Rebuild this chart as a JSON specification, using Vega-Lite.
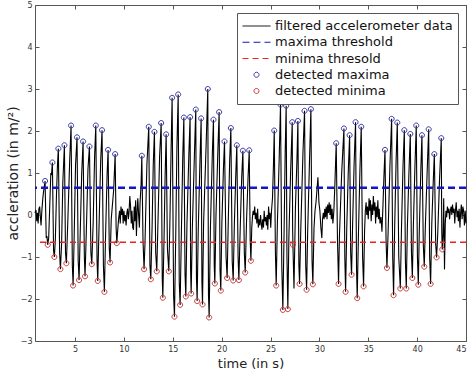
{
  "$schema": "https://vega.github.io/schema/vega-lite/v6.json",
  "width": 431,
  "height": 336,
  "autosize": {"type": "none"},
  "padding": {"left": 35, "top": 5, "right": 8, "bottom": 31},
  "background": "white",
  "config": {
    "view": {"stroke": "#555555", "strokeWidth": 1},
    "font": "DejaVu Sans",
    "axis": {
      "grid": false,
      "domain": false,
      "tickSize": -4,
      "tickColor": "#555555",
      "tickWidth": 1,
      "labelFont": "DejaVu Sans",
      "labelFontSize": 8,
      "labelColor": "#333333",
      "titleFont": "DejaVu Sans",
      "titleFontWeight": "normal",
      "titleColor": "#222222"
    },
    "legend": {
      "labelFont": "DejaVu Sans",
      "labelFontSize": 13,
      "labelColor": "#111111",
      "labelLimit": 400
    }
  },
  "datasets": {
    "signal": [
      {"t":0.90,"a":0.05},{"t":1.00,"a":0.12},{"t":1.08,"a":-0.15},{"t":1.15,"a":0.05},{"t":1.22,"a":-0.2},{"t":1.30,"a":0.15},{"t":1.38,"a":0.2},{"t":1.45,"a":-0.05},{"t":1.52,"a":-0.25},{"t":1.60,"a":0.1},{"t":1.70,"a":0.4},{"t":1.80,"a":0.6},
      {"t":1.93,"a":0.81},{"t":2.05,"a":-0.55},{"t":2.12,"a":-0.5},{"t":2.20,"a":-0.71},{"t":2.30,"a":-0.55},{"t":2.42,"a":0.3},{"t":2.52,"a":1.0},{"t":2.58,"a":0.95},
      {"t":2.68,"a":1.25},{"t":2.80,"a":-0.85},{"t":2.88,"a":-1.0},{"t":2.98,"a":-0.6},{"t":3.10,"a":0.5},{"t":3.20,"a":1.2},{"t":3.29,"a":1.58},{"t":3.42,"a":-0.9},{"t":3.50,"a":-1.29},{"t":3.62,"a":-0.7},{"t":3.75,"a":0.8},
      {"t":3.91,"a":1.66},{"t":4.02,"a":-0.9},{"t":4.11,"a":-1.15},{"t":4.25,"a":-0.2},{"t":4.45,"a":1.3},{"t":4.59,"a":2.13},{"t":4.72,"a":-1.2},{"t":4.80,"a":-1.68},{"t":4.90,"a":-0.6},{"t":5.05,"a":1.2},
      {"t":5.20,"a":1.85},{"t":5.32,"a":-1.1},{"t":5.41,"a":-1.55},{"t":5.52,"a":-0.5},{"t":5.68,"a":1.0},{"t":5.82,"a":1.75},{"t":5.95,"a":-1.0},{"t":6.02,"a":-1.46},{"t":6.15,"a":-0.4},{"t":6.32,"a":1.1},
      {"t":6.47,"a":1.63},{"t":6.62,"a":-0.9},{"t":6.71,"a":-1.17},{"t":6.85,"a":-0.2},{"t":7.00,"a":1.4},{"t":7.12,"a":2.13},{"t":7.25,"a":-1.1},{"t":7.32,"a":-1.57},{"t":7.45,"a":-0.3},{"t":7.62,"a":1.3},
      {"t":7.76,"a":2.02},{"t":7.90,"a":-1.2},{"t":8.00,"a":-1.83},{"t":8.12,"a":-0.5},{"t":8.28,"a":1.0},{"t":8.38,"a":1.55},{"t":8.50,"a":-0.8},{"t":8.58,"a":-1.13},{"t":8.70,"a":-0.1},{"t":8.95,"a":0.6},
      {"t":9.10,"a":1.45},{"t":9.20,"a":-0.3},{"t":9.27,"a":-0.67},
      {"t":9.35,"a":-0.4},{"t":9.45,"a":-0.1},{"t":9.55,"a":0.1},{"t":9.62,"a":-0.2},{"t":9.70,"a":0.2},{"t":9.78,"a":0.0},{"t":9.85,"a":0.15},{"t":9.92,"a":-0.2},{"t":10.00,"a":0.1},{"t":10.08,"a":-0.15},{"t":10.15,"a":0.0},{"t":10.22,"a":-0.25},{"t":10.30,"a":0.05},{"t":10.38,"a":0.15},{"t":10.45,"a":-0.1},{"t":10.52,"a":0.05},{"t":10.60,"a":0.45},{"t":10.68,"a":0.2},{"t":10.75,"a":-0.2},{"t":10.82,"a":0.1},{"t":10.90,"a":-0.3},{"t":10.98,"a":-0.35},{"t":11.05,"a":0.2},{"t":11.12,"a":-0.15},{"t":11.20,"a":0.35},{"t":11.28,"a":-0.5},{"t":11.35,"a":0.1},{"t":11.42,"a":0.4},{"t":11.50,"a":0.0},{"t":11.58,"a":-0.3},{"t":11.65,"a":0.3},{"t":11.75,"a":0.7},
      {"t":11.83,"a":1.41},{"t":11.95,"a":-0.6},{"t":12.06,"a":-1.29},{"t":12.15,"a":-0.7},{"t":12.35,"a":1.2},{"t":12.54,"a":2.10},{"t":12.66,"a":-1.2},{"t":12.75,"a":-1.53},{"t":12.88,"a":-0.3},{"t":13.00,"a":1.2},
      {"t":13.12,"a":1.98},{"t":13.25,"a":-0.9},{"t":13.36,"a":-1.34},{"t":13.48,"a":-0.2},{"t":13.65,"a":1.4},{"t":13.81,"a":2.19},{"t":13.92,"a":-1.5},{"t":13.98,"a":-1.97},{"t":14.10,"a":-0.6},{"t":14.22,"a":1.0},
      {"t":14.32,"a":1.92},{"t":14.45,"a":-0.8},{"t":14.59,"a":-1.34},{"t":14.70,"a":-0.2},{"t":14.82,"a":1.5},{"t":14.93,"a":2.79},{"t":15.08,"a":-1.9},{"t":15.17,"a":-2.42},{"t":15.30,"a":-0.5},{"t":15.42,"a":1.6},
      {"t":15.55,"a":2.87},{"t":15.66,"a":-1.6},{"t":15.75,"a":-2.14},{"t":15.88,"a":-0.4},{"t":16.02,"a":1.4},{"t":16.13,"a":2.32},{"t":16.25,"a":-1.4},{"t":16.33,"a":-1.94},{"t":16.45,"a":-0.2},{"t":16.65,"a":1.5},
      {"t":16.77,"a":2.33},{"t":16.82,"a":-1.3},{"t":16.88,"a":-1.87},{"t":17.00,"a":-0.3},{"t":17.22,"a":1.5},{"t":17.35,"a":2.51},{"t":17.42,"a":-1.5},{"t":17.49,"a":-2.05},{"t":17.60,"a":-0.4},{"t":17.78,"a":1.3},
      {"t":17.90,"a":2.30},{"t":17.98,"a":-1.6},{"t":18.04,"a":-2.13},{"t":18.15,"a":-0.2},{"t":18.40,"a":1.6},{"t":18.58,"a":3.0},{"t":18.65,"a":-1.9},{"t":18.72,"a":-2.44},{"t":18.85,"a":-0.3},{"t":19.05,"a":1.5},
      {"t":19.16,"a":2.27},{"t":19.24,"a":-1.2},{"t":19.30,"a":-1.63},{"t":19.42,"a":0.0},{"t":19.62,"a":1.6},{"t":19.74,"a":2.45},{"t":19.83,"a":-1.3},{"t":19.91,"a":-1.80},{"t":20.02,"a":-0.2},{"t":20.18,"a":1.1},
      {"t":20.29,"a":1.75},{"t":20.45,"a":-1.0},{"t":20.56,"a":-1.50},{"t":20.68,"a":-0.1},{"t":20.82,"a":1.3},{"t":20.94,"a":2.07},{"t":21.08,"a":-1.1},{"t":21.18,"a":-1.56},{"t":21.30,"a":-0.2},{"t":21.45,"a":1.0},
      {"t":21.55,"a":1.66},{"t":21.68,"a":-1.0},{"t":21.76,"a":-1.55},{"t":21.90,"a":-0.3},{"t":22.05,"a":0.9},{"t":22.17,"a":1.53},{"t":22.32,"a":-0.9},{"t":22.41,"a":-1.37},{"t":22.55,"a":-0.1},{"t":22.70,"a":0.9},
      {"t":22.82,"a":1.54},{"t":22.92,"a":-0.6},{"t":22.99,"a":-1.09},{"t":23.08,"a":-0.3},
      {"t":23.15,"a":-0.05},{"t":23.22,"a":0.1},{"t":23.30,"a":0.0},{"t":23.38,"a":0.2},{"t":23.45,"a":-0.1},{"t":23.52,"a":0.05},{"t":23.60,"a":-0.2},{"t":23.68,"a":0.15},{"t":23.75,"a":-0.3},{"t":23.82,"a":-0.1},{"t":23.90,"a":-0.25},{"t":23.98,"a":0.0},{"t":24.05,"a":-0.2},{"t":24.12,"a":-0.35},{"t":24.20,"a":-0.1},{"t":24.28,"a":-0.3},{"t":24.35,"a":0.1},{"t":24.42,"a":-0.15},{"t":24.50,"a":-0.05},{"t":24.58,"a":-0.25},{"t":24.65,"a":0.0},{"t":24.72,"a":-0.35},{"t":24.80,"a":0.2},{"t":24.88,"a":-0.1},{"t":24.95,"a":0.05},{"t":25.02,"a":-0.3},{"t":25.10,"a":0.1},{"t":25.20,"a":0.4},{"t":25.30,"a":1.2},
      {"t":25.38,"a":2.01},{"t":25.50,"a":-0.9},{"t":25.58,"a":-1.68},{"t":25.70,"a":-0.2},{"t":25.88,"a":1.3},{"t":26.02,"a":2.63},{"t":26.15,"a":-1.2},{"t":26.26,"a":-2.26},{"t":26.38,"a":-0.5},{"t":26.50,"a":1.5},
      {"t":26.60,"a":2.60},{"t":26.68,"a":-1.0},{"t":26.77,"a":-2.24},{"t":26.88,"a":-0.5},{"t":27.05,"a":1.0},{"t":27.22,"a":2.21},{"t":27.26,"a":-0.3},{"t":27.29,"a":-0.71},{"t":27.40,"a":-1.75},{"t":27.55,"a":0.2},{"t":27.70,"a":1.3},
      {"t":27.80,"a":2.24},{"t":27.90,"a":-1.2},{"t":27.97,"a":-1.64},{"t":28.10,"a":-0.3},{"t":28.32,"a":1.5},{"t":28.48,"a":2.48},{"t":28.60,"a":-1.2},{"t":28.69,"a":-1.78},{"t":28.80,"a":-0.4},{"t":29.00,"a":1.4},
      {"t":29.13,"a":2.52},{"t":29.25,"a":-1.1},{"t":29.33,"a":-1.65},{"t":29.45,"a":-0.3},
      {"t":29.55,"a":0.1},{"t":29.65,"a":0.3},{"t":29.75,"a":0.6},{"t":29.85,"a":0.9},{"t":29.95,"a":0.3},{"t":30.05,"a":0.1},{"t":30.15,"a":-0.3},{"t":30.25,"a":-0.55},{"t":30.32,"a":-0.1},{"t":30.40,"a":0.05},{"t":30.48,"a":-0.1},{"t":30.55,"a":0.15},{"t":30.62,"a":-0.05},{"t":30.70,"a":0.2},{"t":30.78,"a":-0.1},{"t":30.85,"a":0.25},{"t":30.92,"a":0.05},{"t":31.00,"a":0.3},{"t":31.08,"a":0.0},{"t":31.15,"a":0.25},{"t":31.22,"a":-0.1},{"t":31.30,"a":0.15},{"t":31.38,"a":-0.2},{"t":31.48,"a":0.1},{"t":31.58,"a":0.7},
      {"t":31.72,"a":1.71},{"t":31.85,"a":-0.6},{"t":31.96,"a":-1.64},{"t":32.05,"a":-0.5},{"t":32.28,"a":1.0},{"t":32.51,"a":2.06},{"t":32.60,"a":-1.0},{"t":32.68,"a":-1.83},{"t":32.80,"a":-0.3},{"t":32.95,"a":1.0},
      {"t":33.09,"a":1.90},{"t":33.20,"a":-0.9},{"t":33.29,"a":-1.42},{"t":33.40,"a":-0.2},{"t":33.55,"a":1.2},{"t":33.70,"a":2.21},{"t":33.80,"a":-1.3},{"t":33.87,"a":-1.98},{"t":34.00,"a":-0.4},{"t":34.15,"a":1.1},
      {"t":34.28,"a":2.10},{"t":34.42,"a":-1.0},{"t":34.52,"a":-1.70},{"t":34.62,"a":-0.4},
      {"t":34.70,"a":0.1},{"t":34.78,"a":0.3},{"t":34.85,"a":0.0},{"t":34.92,"a":0.2},{"t":35.00,"a":-0.1},{"t":35.08,"a":0.4},{"t":35.15,"a":0.1},{"t":35.22,"a":0.35},{"t":35.30,"a":-0.15},{"t":35.38,"a":0.25},{"t":35.45,"a":0.0},{"t":35.52,"a":0.45},{"t":35.60,"a":0.1},{"t":35.68,"a":0.3},{"t":35.75,"a":-0.2},{"t":35.82,"a":0.2},{"t":35.90,"a":-0.05},{"t":35.98,"a":0.35},{"t":36.05,"a":-0.1},{"t":36.12,"a":0.15},{"t":36.20,"a":-0.2},{"t":36.30,"a":-0.05},{"t":36.40,"a":-0.4},{"t":36.50,"a":0.2},{"t":36.60,"a":0.9},
      {"t":36.71,"a":1.55},{"t":36.82,"a":-0.6},{"t":36.91,"a":-1.26},{"t":37.02,"a":-0.5},{"t":37.22,"a":1.2},{"t":37.39,"a":2.29},{"t":37.50,"a":-1.0},{"t":37.59,"a":-1.91},{"t":37.70,"a":-0.3},{"t":37.85,"a":1.3},
      {"t":37.97,"a":2.20},{"t":38.12,"a":-1.0},{"t":38.28,"a":-1.75},{"t":38.40,"a":-0.3},{"t":38.56,"a":1.2},{"t":38.69,"a":2.02},{"t":38.80,"a":-1.1},{"t":38.89,"a":-1.75},{"t":39.00,"a":-0.3},{"t":39.16,"a":1.0},
      {"t":39.30,"a":1.93},{"t":39.42,"a":-0.9},{"t":39.51,"a":-1.50},{"t":39.62,"a":-0.2},{"t":39.78,"a":1.2},{"t":39.91,"a":2.13},{"t":40.03,"a":-1.0},{"t":40.12,"a":-1.66},{"t":40.22,"a":-0.4},{"t":40.38,"a":1.1},
      {"t":40.49,"a":1.90},{"t":40.63,"a":-0.7},{"t":40.73,"a":-1.23},{"t":40.85,"a":-0.2},{"t":41.05,"a":1.2},{"t":41.18,"a":2.04},{"t":41.28,"a":-1.0},{"t":41.38,"a":-1.64},{"t":41.50,"a":-0.2},{"t":41.65,"a":0.8},
      {"t":41.76,"a":1.45},{"t":41.90,"a":-0.7},{"t":41.99,"a":-1.01},{"t":42.10,"a":-0.5},{"t":42.30,"a":0.9},{"t":42.47,"a":1.83},{"t":42.52,"a":-0.4},{"t":42.57,"a":-0.82},{"t":42.65,"a":-0.5},{"t":42.72,"a":0.4},{"t":42.80,"a":-1.3},
      {"t":42.88,"a":-0.2},{"t":42.95,"a":0.1},{"t":43.02,"a":-0.05},{"t":43.10,"a":0.2},{"t":43.18,"a":0.05},{"t":43.25,"a":0.15},{"t":43.32,"a":-0.1},{"t":43.40,"a":0.1},{"t":43.48,"a":0.2},{"t":43.55,"a":0.0},{"t":43.62,"a":0.25},{"t":43.70,"a":0.05},{"t":43.78,"a":0.15},{"t":43.85,"a":-0.2},{"t":43.92,"a":0.1},{"t":44.00,"a":0.3},{"t":44.08,"a":-0.05},{"t":44.15,"a":0.1},{"t":44.22,"a":-0.15},{"t":44.30,"a":0.15},{"t":44.38,"a":-0.3},{"t":44.45,"a":0.05},{"t":44.52,"a":0.25},{"t":44.60,"a":-0.1},{"t":44.68,"a":0.2},{"t":44.76,"a":0.1},{"t":44.84,"a":-0.25},{"t":44.92,"a":0.1},{"t":45.00,"a":-0.2}
    ],
    "extrema": [
      {"t":1.93,"a":0.81,"series":"detected maxima"},{"t":2.68,"a":1.25,"series":"detected maxima"},{"t":3.29,"a":1.58,"series":"detected maxima"},{"t":3.91,"a":1.66,"series":"detected maxima"},{"t":4.59,"a":2.13,"series":"detected maxima"},{"t":5.20,"a":1.85,"series":"detected maxima"},{"t":5.82,"a":1.75,"series":"detected maxima"},{"t":6.47,"a":1.63,"series":"detected maxima"},{"t":7.12,"a":2.13,"series":"detected maxima"},{"t":7.76,"a":2.02,"series":"detected maxima"},{"t":8.38,"a":1.55,"series":"detected maxima"},{"t":9.10,"a":1.45,"series":"detected maxima"},
      {"t":11.83,"a":1.41,"series":"detected maxima"},{"t":12.54,"a":2.10,"series":"detected maxima"},{"t":13.12,"a":1.98,"series":"detected maxima"},{"t":13.81,"a":2.19,"series":"detected maxima"},{"t":14.32,"a":1.92,"series":"detected maxima"},{"t":14.93,"a":2.79,"series":"detected maxima"},{"t":15.55,"a":2.87,"series":"detected maxima"},{"t":16.13,"a":2.32,"series":"detected maxima"},{"t":16.77,"a":2.33,"series":"detected maxima"},{"t":17.35,"a":2.51,"series":"detected maxima"},{"t":17.90,"a":2.30,"series":"detected maxima"},{"t":18.58,"a":3.0,"series":"detected maxima"},{"t":19.16,"a":2.27,"series":"detected maxima"},{"t":19.74,"a":2.45,"series":"detected maxima"},{"t":20.29,"a":1.75,"series":"detected maxima"},{"t":20.94,"a":2.07,"series":"detected maxima"},{"t":21.55,"a":1.66,"series":"detected maxima"},{"t":22.17,"a":1.53,"series":"detected maxima"},{"t":22.82,"a":1.54,"series":"detected maxima"},
      {"t":25.38,"a":2.01,"series":"detected maxima"},{"t":26.02,"a":2.63,"series":"detected maxima"},{"t":26.60,"a":2.60,"series":"detected maxima"},{"t":27.22,"a":2.21,"series":"detected maxima"},{"t":27.80,"a":2.24,"series":"detected maxima"},{"t":28.48,"a":2.48,"series":"detected maxima"},{"t":29.13,"a":2.52,"series":"detected maxima"},
      {"t":31.72,"a":1.71,"series":"detected maxima"},{"t":32.51,"a":2.06,"series":"detected maxima"},{"t":33.09,"a":1.90,"series":"detected maxima"},{"t":33.70,"a":2.21,"series":"detected maxima"},{"t":34.28,"a":2.10,"series":"detected maxima"},
      {"t":36.71,"a":1.55,"series":"detected maxima"},{"t":37.39,"a":2.29,"series":"detected maxima"},{"t":37.97,"a":2.20,"series":"detected maxima"},{"t":38.69,"a":2.02,"series":"detected maxima"},{"t":39.30,"a":1.93,"series":"detected maxima"},{"t":39.91,"a":2.13,"series":"detected maxima"},{"t":40.49,"a":1.90,"series":"detected maxima"},{"t":41.18,"a":2.04,"series":"detected maxima"},{"t":41.76,"a":1.45,"series":"detected maxima"},{"t":42.47,"a":1.83,"series":"detected maxima"},
      {"t":2.20,"a":-0.71,"series":"detected minima"},{"t":2.88,"a":-1.0,"series":"detected minima"},{"t":3.50,"a":-1.29,"series":"detected minima"},{"t":4.11,"a":-1.15,"series":"detected minima"},{"t":4.80,"a":-1.68,"series":"detected minima"},{"t":5.41,"a":-1.55,"series":"detected minima"},{"t":6.02,"a":-1.46,"series":"detected minima"},{"t":6.71,"a":-1.17,"series":"detected minima"},{"t":7.32,"a":-1.57,"series":"detected minima"},{"t":8.00,"a":-1.83,"series":"detected minima"},{"t":8.58,"a":-1.13,"series":"detected minima"},{"t":9.27,"a":-0.67,"series":"detected minima"},
      {"t":12.06,"a":-1.29,"series":"detected minima"},{"t":12.75,"a":-1.53,"series":"detected minima"},{"t":13.36,"a":-1.34,"series":"detected minima"},{"t":13.98,"a":-1.97,"series":"detected minima"},{"t":14.59,"a":-1.34,"series":"detected minima"},{"t":15.17,"a":-2.42,"series":"detected minima"},{"t":15.75,"a":-2.14,"series":"detected minima"},{"t":16.33,"a":-1.94,"series":"detected minima"},{"t":16.88,"a":-1.87,"series":"detected minima"},{"t":17.49,"a":-2.05,"series":"detected minima"},{"t":18.04,"a":-2.13,"series":"detected minima"},{"t":18.72,"a":-2.44,"series":"detected minima"},{"t":19.30,"a":-1.63,"series":"detected minima"},{"t":19.91,"a":-1.80,"series":"detected minima"},{"t":20.56,"a":-1.50,"series":"detected minima"},{"t":21.18,"a":-1.56,"series":"detected minima"},{"t":21.76,"a":-1.55,"series":"detected minima"},{"t":22.41,"a":-1.37,"series":"detected minima"},{"t":22.99,"a":-1.09,"series":"detected minima"},
      {"t":25.58,"a":-1.68,"series":"detected minima"},{"t":26.26,"a":-2.26,"series":"detected minima"},{"t":26.77,"a":-2.24,"series":"detected minima"},{"t":27.29,"a":-0.71,"series":"detected minima"},{"t":27.97,"a":-1.64,"series":"detected minima"},{"t":28.69,"a":-1.78,"series":"detected minima"},{"t":29.33,"a":-1.65,"series":"detected minima"},
      {"t":31.96,"a":-1.64,"series":"detected minima"},{"t":32.68,"a":-1.83,"series":"detected minima"},{"t":33.29,"a":-1.42,"series":"detected minima"},{"t":33.87,"a":-1.98,"series":"detected minima"},{"t":34.52,"a":-1.70,"series":"detected minima"},
      {"t":36.91,"a":-1.26,"series":"detected minima"},{"t":37.59,"a":-1.91,"series":"detected minima"},{"t":38.28,"a":-1.75,"series":"detected minima"},{"t":38.89,"a":-1.75,"series":"detected minima"},{"t":39.51,"a":-1.50,"series":"detected minima"},{"t":40.12,"a":-1.66,"series":"detected minima"},{"t":40.73,"a":-1.23,"series":"detected minima"},{"t":41.38,"a":-1.64,"series":"detected minima"},{"t":41.99,"a":-1.01,"series":"detected minima"},{"t":42.57,"a":-0.82,"series":"detected minima"}
    ],
    "maxThreshold": [{"value": 0.65}],
    "minThreshold": [{"value": -0.65}]
  },
  "resolve": {"axis": {"x": "independent", "y": "independent"}},
  "layer": [
    {
      "data": {"name": "signal"},
      "mark": {"type": "line", "strokeWidth": 1.1, "interpolate": "linear"},
      "encoding": {
        "x": {
          "field": "t", "type": "quantitative",
          "scale": {"domain": [0.9, 45], "nice": false, "zero": false},
          "axis": {"orient": "bottom", "values": [5,10,15,20,25,30,35,40,45], "title": "time (in s)", "titleFontSize": 13, "labelPadding": 8, "titlePadding": 4}
        },
        "y": {
          "field": "a", "type": "quantitative",
          "scale": {"domain": [-3, 5], "nice": false, "zero": false},
          "axis": {"orient": "left", "values": [-3,-2,-1,0,1,2,3,4,5], "title": "accleration (in m/²)", "titleFontSize": 14, "labelPadding": 7, "titleX": -22, "titleBaseline": "middle"}
        },
        "color": {
          "datum": "filtered accelerometer data", "type": "nominal",
          "scale": {
            "domain": ["filtered accelerometer data", "maxima threshold", "minima thresold", "detected maxima", "detected minima"],
            "range": ["#000000", "#1414c8", "#e02828", "#3434a8", "#c83838"]
          },
          "legend": {
            "title": null,
            "orient": "top-right",
            "offset": 8,
            "padding": 5,
            "fillColor": "#ffffff",
            "strokeColor": "#555555",
            "symbolSize": 784,
            "symbolStrokeWidth": 1,
            "clipHeight": 16,
            "rowPadding": 0.25,
            "labelOffset": 4,
            "labelFontSize": 13,
            "labelLimit": 400
          }
        },
        "strokeDash": {
          "datum": "filtered accelerometer data", "type": "nominal",
          "scale": {
            "domain": ["filtered accelerometer data", "maxima threshold", "minima thresold", "detected maxima", "detected minima"],
            "range": [[1, 0], [7, 4], [6, 4], [1, 0], [1, 0]]
          },
          "legend": {"title": null}
        }
      }
    },
    {
      "data": {"name": "maxThreshold"},
      "mark": {"type": "rule", "strokeWidth": 2.6},
      "encoding": {
        "y": {
          "field": "value", "type": "quantitative",
          "axis": {"orient": "right", "values": [-3,-2,-1,0,1,2,3,4,5], "labels": false, "title": null}
        },
        "color": {"datum": "maxima threshold", "type": "nominal", "scale": {"domain": ["filtered accelerometer data", "maxima threshold", "minima thresold", "detected maxima", "detected minima"]}, "legend": {"title": null}},
        "strokeDash": {"datum": "maxima threshold", "type": "nominal", "scale": {"domain": ["filtered accelerometer data", "maxima threshold", "minima thresold", "detected maxima", "detected minima"]}, "legend": {"title": null}}
      }
    },
    {
      "data": {"name": "minThreshold"},
      "mark": {"type": "rule", "strokeWidth": 1.6},
      "encoding": {
        "y": {"field": "value", "type": "quantitative", "axis": null},
        "color": {"datum": "minima thresold", "type": "nominal", "scale": {"domain": ["filtered accelerometer data", "maxima threshold", "minima thresold", "detected maxima", "detected minima"]}, "legend": {"title": null}},
        "strokeDash": {"datum": "minima thresold", "type": "nominal", "scale": {"domain": ["filtered accelerometer data", "maxima threshold", "minima thresold", "detected maxima", "detected minima"]}, "legend": {"title": null}}
      }
    },
    {
      "data": {"name": "extrema"},
      "mark": {"type": "point", "filled": false, "size": 784, "strokeWidth": 1, "opacity": 1},
      "encoding": {
        "x": {
          "field": "t", "type": "quantitative",
          "axis": {"orient": "top", "values": [5,10,15,20,25,30,35,40,45], "labels": false, "title": null}
        },
        "y": {"field": "a", "type": "quantitative", "axis": null},
        "color": {"field": "series", "type": "nominal", "title": null, "scale": {"domain": ["filtered accelerometer data", "maxima threshold", "minima thresold", "detected maxima", "detected minima"]}, "legend": {"title": null}},
        "shape": {
          "field": "series", "type": "nominal", "title": null,
          "scale": {
            "domain": ["filtered accelerometer data", "maxima threshold", "minima thresold", "detected maxima", "detected minima"],
            "range": ["stroke", "stroke", "stroke", "M0.18,0A0.18,0.18 0 1,1 -0.18,0A0.18,0.18 0 1,1 0.18,0Z", "M0.18,0A0.18,0.18 0 1,1 -0.18,0A0.18,0.18 0 1,1 0.18,0Z"]
          },
          "legend": {"title": null}
        }
      }
    }
  ]
}
